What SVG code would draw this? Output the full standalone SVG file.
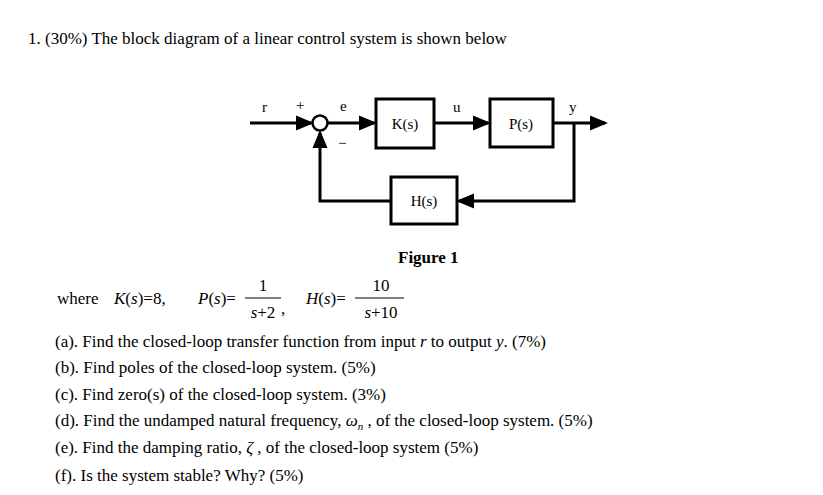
<svg xmlns="http://www.w3.org/2000/svg" width="823" height="495" viewBox="0 0 823 495">
<style>
text{font-family:"Liberation Serif",serif;font-size:17px;fill:#000}
.blk{fill:#fff;stroke:#000;stroke-width:3}
.ln{fill:none;stroke:#000;stroke-width:3}
.lbl{font-size:15px}
.m{font-style:italic}
</style>
<defs><marker id="ah" markerWidth="6" markerHeight="6" refX="5" refY="3" orient="auto" markerUnits="strokeWidth"><path d="M0,0.5 L6,3 L0,5.5 Z" fill="#000"/></marker></defs>
<rect width="823" height="495" fill="#fff"/>
<text x="28" y="44">1.  (30%) The block diagram of a linear control system is shown below</text>
<g id="connectors">
<path class="ln" d="M250,123 H311" marker-end="url(#ah)"/>
<path class="ln" d="M328,123 H374" marker-end="url(#ah)"/>
<path class="ln" d="M434,123 H488" marker-end="url(#ah)"/>
<path class="ln" d="M553,123 H605" marker-end="url(#ah)"/>
<path class="ln" d="M574,123 V201 H459" marker-end="url(#ah)"/>
<path class="ln" d="M391,201 H320 V133" marker-end="url(#ah)"/>
</g>
<g id="sum"><circle cx="320" cy="123" r="7.5" fill="#fff" stroke="#000" stroke-width="2.5"/></g>
<g id="K"><rect class="blk" x="376" y="99" width="58" height="49"/><text class="lbl" x="405" y="129" text-anchor="middle">K(s)</text></g>
<g id="P"><rect class="blk" x="490" y="99" width="63" height="48"/><text class="lbl" x="521" y="129" text-anchor="middle">P(s)</text></g>
<g id="H"><rect class="blk" x="391" y="177" width="66" height="47"/><text class="lbl" x="424" y="206" text-anchor="middle">H(s)</text></g>
<text class="lbl" x="262" y="112">r</text>
<text class="lbl" x="296" y="110">+</text>
<text class="lbl" x="340" y="111">e</text>
<text class="lbl" x="338" y="148">−</text>
<text class="lbl" x="453" y="112">u</text>
<text class="lbl" x="569" y="112">y</text>
<text x="398" y="263" font-weight="bold">Figure 1</text>
<text x="57" y="304">where</text>
<text x="114" y="304"><tspan class="m">K</tspan>(<tspan class="m">s</tspan>)=8,</text>
<text x="198" y="304"><tspan class="m">P</tspan>(<tspan class="m">s</tspan>)=</text>
<line x1="245" y1="298" x2="281" y2="298" stroke="#000" stroke-width="1.2"/>
<text x="263" y="291" text-anchor="middle">1</text>
<text x="263" y="318" text-anchor="middle"><tspan class="m">s</tspan>+2</text>
<text x="281" y="314">,</text>
<text x="306" y="304"><tspan class="m">H</tspan>(<tspan class="m">s</tspan>)=</text>
<line x1="355" y1="298" x2="404" y2="298" stroke="#000" stroke-width="1.2"/>
<text x="381" y="291" text-anchor="middle">10</text>
<text x="381" y="318" text-anchor="middle"><tspan class="m">s</tspan>+10</text>
<text x="55" y="347">(a). Find the closed-loop transfer function from input <tspan class="m">r</tspan> to output <tspan class="m">y</tspan>. (7%)</text>
<text x="55" y="373">(b). Find poles of the closed-loop system. (5%)</text>
<text x="55" y="400">(c). Find zero(s) of the closed-loop system. (3%)</text>
<text x="55" y="426">(d). Find the undamped natural frequency, <tspan class="m">ω</tspan><tspan class="m" font-size="11" dy="4">n</tspan><tspan dy="-4"> , of the closed-loop system. (5%)</tspan></text>
<text x="55" y="453">(e). Find the damping ratio, <tspan class="m">ζ</tspan> , of the closed-loop system (5%)</text>
<text x="55" y="481">(f). Is the system stable? Why? (5%)</text>
</svg>
